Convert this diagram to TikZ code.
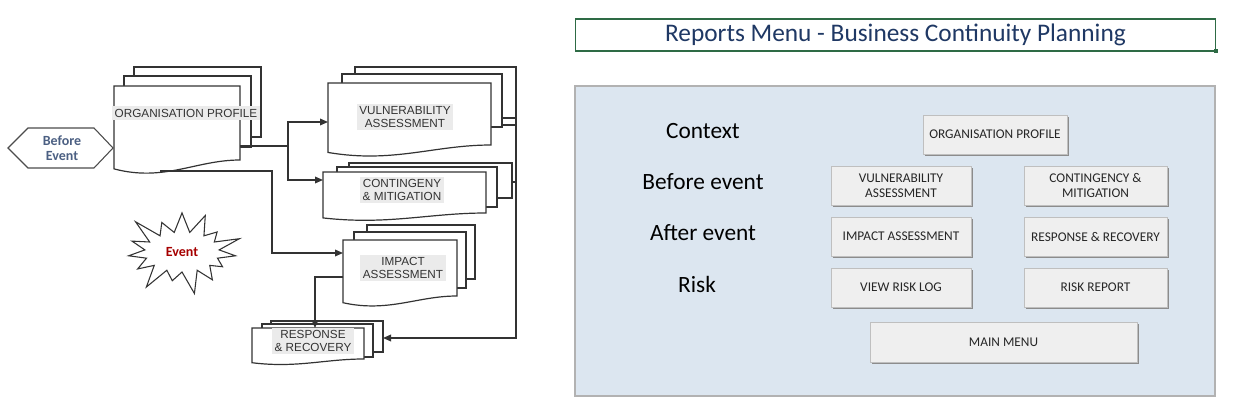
\documentclass[tikz,border=0pt]{standalone}
\usepackage{fontspec}
\setmainfont{Carlito}
\newfontfamily\arialf{Liberation Sans}
\usetikzlibrary{shapes.symbols,arrows.meta,shadows}
\definecolor{panel}{HTML}{DCE6F0}
\definecolor{btn}{HTML}{EFEFEF}
\definecolor{navy}{HTML}{1F3864}
\definecolor{ttlgreen}{HTML}{2E6B45}
\definecolor{lblbg}{HTML}{EBEBEB}
\newcommand\docpage[4]{%
  \pgfmathsetmacro\dw{#3-#1}\pgfmathsetmacro\dh{#4-#2}%
  \filldraw[line width=0.9pt,fill=white,draw=black!80] (#1,#2) -- (#3,#2) -- (#3,#4)
    .. controls ({#3-0.35*\dw},#4) and ({#1+0.4*\dw},{#4+0.3*\dh}) .. (#1,{#4+0.12*\dh}) -- cycle;}
\newcommand\backpage[4]{\filldraw[line width=0.9pt,fill=white,draw=black!80] (#1,#2) rectangle (#3,#4);}
\begin{document}
\begin{tikzpicture}[x=0.75pt,y=-0.75pt,
  flab/.style={fill=lblbg,font=\arialf\fontsize{8.8}{10}\selectfont,text=black!80,align=center,inner sep=2pt},
  conn/.style={line width=0.9pt,draw=black!80},
  arr/.style={conn,-{Triangle[length=6pt,width=5pt]}},
  button/.style={fill=btn,draw=black!25,font=\fontsize{10}{11.5}\selectfont,text=black!85,align=center,
     drop shadow={shadow xshift=1.2pt,shadow yshift=-1.2pt,fill=black!45,opacity=1}},
  row/.style={font=\fontsize{17.5}{19}\selectfont,text=black}]
\useasboundingbox (0,0) rectangle (1243,417);
\fill[white] (0,0) rectangle (1243,417);
% ---------- left diagram ----------
\backpage{134}{67}{261}{137}
\backpage{124}{76}{251}{147}
\docpage{114}{86}{240}{160}
\node[flab] (org) at (186,113) {ORGANISATION PROFILE};
\backpage{355}{67}{516}{118}
\backpage{342}{74}{502}{127}
\docpage{328}{83}{491}{145}
\node[flab] (vul) at (405,117) {VULNERABILITY\\ASSESSMENT};
\backpage{349}{163}{512}{198}
\backpage{337}{167}{497}{207}
\docpage{323}{172}{486}{213}
\node[flab] (con) at (402,190) {CONTINGENY\\\& MITIGATION};
\backpage{367}{225}{475}{279}
\backpage{354}{232}{466}{288}
\docpage{343}{240}{457}{296}
\node[flab] (imp) at (403,268) {IMPACT\\ASSESSMENT};
\backpage{271}{321}{383}{352}
\backpage{262}{324}{373}{357}
\docpage{252}{328}{364}{359}
\node[flab] (res) at (313,341) {RESPONSE\\\& RECOVERY};
\node[font=\bfseries\fontsize{10.5}{11.5}\selectfont,text=navy!80,align=center] (bef) at (62,148) {Before\\Event};
\draw[line width=0.8pt,black!70] (8,148) -- (28,128) -- (94,128) -- (113,148) -- (94,168) -- (28,168) -- cycle;
\node[starburst,starburst points=15,starburst point height=20pt,draw=black!80,line width=0.8pt,fill=white,
  minimum width=96pt,minimum height=70pt,font=\bfseries\fontsize{10.5}{11.5}\selectfont,text=red!65!black] (evt) at (182,252) {Event};
\coordinate (o1) at (240,146);
\coordinate (j1) at (288,146);
\coordinate (vin) at (328,122);
\coordinate (cin) at (323,180);
\draw[conn] (o1) -- (j1);
\draw[arr] (j1) |- (vin);
\draw[arr] (j1) |- (cin);
\coordinate (o2) at (160,171);
\coordinate (iin) at (343,253);
\draw[arr] (o2) -| (272,253) -- (iin);
\coordinate (iout) at (343,277);
\coordinate (rin) at (315,328);
\draw[arr] (iout) -| (rin);
\coordinate (fb) at (516,67);
\coordinate (rright) at (383,338);
\draw[arr] (fb) |- (rright);
\draw[conn] (502,125) -- (516,125);
\draw[conn] (512,182) -- (516,182);
% ---------- right panel ----------
\node[draw=ttlgreen,line width=1pt,minimum width=640*0.75pt,minimum height=32*0.75pt,
  font=\fontsize{19}{21}\selectfont,text=navy] (ttl) at (895.5,35) {Reports Menu - Business Continuity Planning};
\fill[ttlgreen] (1214,49) rectangle (1218,53);
\node[fill=panel,draw=black!30,line width=1.2pt,minimum width=640*0.75pt,minimum height=310*0.75pt] (pan) at (895,241) {};
\node[row] (lc) at (703,131) {Context};
\node[row] (lb) at (703,182) {Before event};
\node[row] (la) at (703,233) {After event};
\node[row] (lr) at (697,284) {Risk};
\tikzset{b1/.style={button,minimum width=144*0.75pt,minimum height=39*0.75pt}}
\node[b1] (bo) at (995,134.5) {ORGANISATION PROFILE};
\node[b1,minimum width=140*0.75pt] (bv) at (901,185.5) {VULNERABILITY\\ASSESSMENT};
\node[b1,minimum width=143*0.75pt] (bc) at (1095.5,185.5) {CONTINGENCY \&\\MITIGATION};
\node[b1,minimum width=140*0.75pt] (bi) at (901,236.5) {IMPACT ASSESSMENT};
\node[b1,minimum width=143*0.75pt] (br) at (1095.5,236.5) {RESPONSE \& RECOVERY};
\node[b1,minimum width=140*0.75pt] (bl) at (901,287.5) {VIEW RISK LOG};
\node[b1,minimum width=143*0.75pt] (bk) at (1095.5,287.5) {RISK REPORT};
\node[b1,minimum width=267*0.75pt,minimum height=40*0.75pt] (bm) at (1003.5,342) {MAIN MENU};
\end{tikzpicture}
\end{document}
